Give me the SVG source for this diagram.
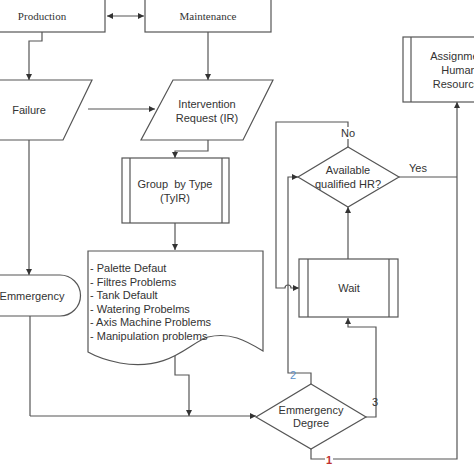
<svg xmlns="http://www.w3.org/2000/svg" width="474" height="474" viewBox="0 0 474 474">
<defs>
<marker id="ah" viewBox="0 0 8 8" refX="8" refY="4" markerWidth="6" markerHeight="6" orient="auto-start-reverse" markerUnits="userSpaceOnUse">
<path d="M0,0 L8,4 L0,8 Z" fill="#333"/>
</marker>
<style>
.shape{fill:#fff;stroke:#555;stroke-width:1.2}
.ln{fill:none;stroke:#555;stroke-width:1.2}
.arr{fill:none;stroke:#555;stroke-width:1.2;marker-end:url(#ah)}
.t{font-family:"Liberation Sans",Arial,sans-serif;font-size:11px;fill:#333;text-anchor:middle;dominant-baseline:central}
.ts{font-family:"Liberation Serif","Times New Roman",serif;font-size:11px;fill:#333;text-anchor:middle;dominant-baseline:central}
.tl{font-family:"Liberation Sans",Arial,sans-serif;font-size:11px;fill:#333;dominant-baseline:central}
</style>
</defs>
<rect width="474" height="474" fill="#fff"/>
<g id="connectors">
<path class="ln" d="M107,16 H144" marker-start="url(#ah)" marker-end="url(#ah)"/>
<path class="arr" d="M42,32 V41 H29 V80"/>
<path class="arr" d="M208,32 V80"/>
<path class="arr" d="M88,109 H155"/>
<path class="arr" d="M208,140 V151 H175 V158"/>
<path class="arr" d="M29,140 V275"/>
<path class="arr" d="M175,223 V250"/>
<path class="ln" d="M30,316 V416"/>
<path class="arr" d="M30,416 H256"/>
<path class="arr" d="M175,353 V375 H189 V416"/>
<path class="arr" d="M311,384 V373 H288 V177 H298"/>
<path class="arr" d="M366,417 H376 V327 H348 V318"/>
<path class="arr" d="M311,449 V459 H457 V102"/>
<path class="ln" d="M399,177 H457"/>
<path class="arr" d="M348,259 V207"/>
<path class="arr" d="M348,147 V122 H276 V288 H285 A3,3 0 0 1 291,288 H299"/>
</g>
<g id="production"><rect class="shape" x="-10" y="-1" width="115" height="33"/><text class="ts" x="42" y="16">Production</text></g>
<g id="maintenance"><rect class="shape" x="145" y="-1" width="126" height="33"/><text class="ts" x="208" y="16">Maintenance</text></g>
<g id="failure"><polygon class="shape" points="-40,80 92,80 63,140 -60,140"/><text class="t" x="29" y="110">Failure</text></g>
<g id="ir"><polygon class="shape" points="173,80 273,80 243,140 141,140"/><text class="t" x="207" y="104">Intervention</text><text class="t" x="207" y="118">Request (IR)</text></g>
<g id="group"><rect class="shape" x="122" y="158" width="107" height="65"/><path class="ln" d="M130,158 V223 M222,158 V223"/><text class="t" x="175" y="184" xml:space="preserve">Group  by Type</text><text class="t" x="175" y="198">(TyIR)</text></g>
<g id="doc"><path class="shape" d="M88,251 H263 V351 C245,340 230,332 208,337 C190,342 170,372 120,363 C105,360 95,356 88,352 Z"/>
<text class="tl" x="90" y="268">- Palette Defaut</text>
<text class="tl" x="90" y="281.5">- Filtres Problems</text>
<text class="tl" x="90" y="295">- Tank Default</text>
<text class="tl" x="90" y="308.5">- Watering Probelms</text>
<text class="tl" x="90" y="322">- Axis Machine Problems</text>
<text class="tl" x="90" y="335.5">- Manipulation problems</text></g>
<g id="emmergency"><path class="shape" d="M-40,275 H60 A20.5,20.5 0 0 1 60,316 H-40 Z"/><text class="t" x="32" y="296">Emmergency</text></g>
<g id="degree"><polygon class="shape" points="311,384 366,417 311,449 256,417"/><text class="t" x="311" y="410">Emmergency</text><text class="t" x="311" y="423">Degree</text></g>
<g id="available"><polygon class="shape" points="348,147 399,177 348,207 298,177"/><text class="t" x="348" y="170">Available</text><text class="t" x="348" y="184">qualified HR?</text></g>
<g id="wait"><rect class="shape" x="299" y="259" width="99" height="58"/><path class="ln" d="M308,259 V317 M389,259 V317"/><text class="t" x="349" y="288">Wait</text></g>
<g id="assign"><rect class="shape" x="403" y="37" width="112" height="65"/><path class="ln" d="M411,37 V102"/><text class="t" x="459" y="56">Assignment</text><text class="t" x="459" y="70">Human</text><text class="t" x="459" y="84">Resources</text></g>
<g id="labels">
<rect x="340" y="127" width="16" height="12" fill="#fff"/>
<text class="t" x="348" y="133">No</text>
<text class="t" x="418" y="168">Yes</text>
<text class="t" x="293" y="375" style="fill:#5b8fc9">2</text>
<text class="t" x="375" y="402">3</text>
<rect x="325" y="454" width="8" height="11" fill="#fff"/>
<text class="t" x="329" y="460" style="fill:#c0302f;font-weight:bold">1</text>
</g>
</svg>
